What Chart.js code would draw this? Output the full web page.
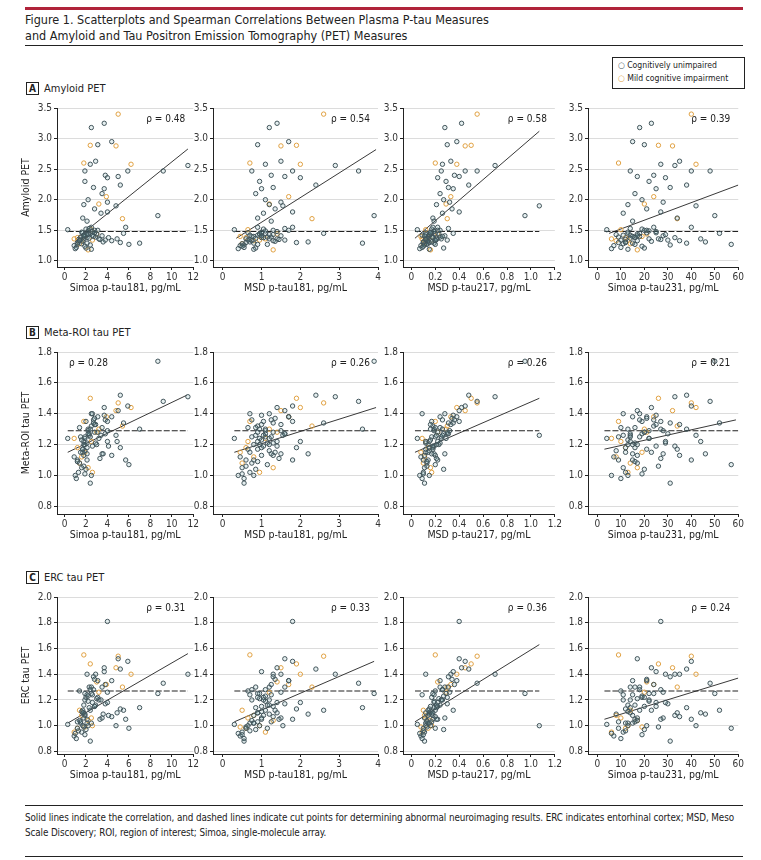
<!DOCTYPE html>
<html>
<head>
<meta charset="utf-8">
<script src="https://cdn.jsdelivr.net/npm/chart.js@4"></script>
<style>
  body { margin: 0; background: #fff; font-family: "Liberation Sans Narrow", "DejaVu Sans Condensed", sans-serif; color: #222; }
  #page { position: relative; width: 761px; height: 860px; }
  .abs { position: absolute; }
  canvas.panel { position: absolute; }
  .sec { position: absolute; left: 26px; font-size: 11px; }
  .sec b { display: inline-block; border: 1px solid #222; width: 11px; text-align: center; font-size: 10px; margin-right: 5px; }
</style>
</head>
<body>
<div id="page">
  <div class="abs" style="left:25px;top:7px;width:718px;height:3px;background:#b0233a"></div>
  <div class="abs" style="left:25px;top:12px;font-size:12.5px;line-height:16px;">Figure 1. Scatterplots and Spearman Correlations Between Plasma P-tau Measures<br>and Amyloid and Tau Positron Emission Tomography (PET) Measures</div>
  <div class="abs" style="left:25px;top:45px;width:718px;height:1px;background:#222"></div>
  <div class="abs" style="left:612px;top:57px;width:126px;height:29px;border:1px solid #222;font-size:8.6px;line-height:13px;padding:1px 0 0 5px;white-space:nowrap;">
    <span style="color:#42545a">&#9675;</span> Cognitively unimpaired<br><span style="color:#e0a040">&#9675;</span> Mild cognitive impairment
  </div>
  <div class="sec" style="top:82px"><b>A</b>Amyloid PET</div>
  <div class="sec" style="top:326px"><b>B</b>Meta-ROI tau PET</div>
  <div class="sec" style="top:571px"><b>C</b>ERC tau PET</div>
  <div class="abs" style="left:25px;top:805px;width:718px;height:1px;background:#222"></div>
  <div class="abs" style="left:25px;top:810px;width:718px;font-size:9.8px;line-height:15px;letter-spacing:-0.1px;">Solid lines indicate the correlation, and dashed lines indicate cut points for determining abnormal neuroimaging results. ERC indicates entorhinal cortex; MSD, Meso<br>Scale Discovery; ROI, region of interest; Simoa, single-molecule array.</div>
  <div class="abs" style="left:25px;top:856px;width:718px;height:1px;background:#222"></div>
</div>
<script>
// one entry per participant (0 = cognitively unimpaired, 1 = MCI)
const simoa181 = [1.8,2.1,1.5,2.4,1.2,2.8,1.9,3.2,1.6,2.2, 0.9,2.6,1.4,2.0,3.5,1.1,2.3,1.7,2.9,1.3, 2.5,1.9,3.8,2.1,1.6,4.4,2.7,1.0,2.2,1.8,
  5.2,5.7,7.0,4.9,0.3,2.4,1.5,3.0,2.0,1.7, 2.6,3.3,1.2,2.3,4.1,1.9,2.8,3.6,5.5,6.0, 2.1,1.4,3.1,2.5,1.8,
  2.5,3.7,4.4,3.1,2.9,2.4,1.9,5.9,9.2,11.5, 3.8,4.0,5.0,1.9,2.7,3.7,5.2,2.2,3.5,4.0, 1.8,2.8,8.7,4.0,1.7,3.4,4.8,2.1,
  5.0,2.4,4.8,1.8,6.2,3.9,3.2,5.4,1.2,1.6, 0.9,2.2,1.4,2.5,3.0,1.9,2.6];
const msd181 = [0.9,1.0,0.7,1.1,0.6,1.3,0.8,1.2,0.5,0.95, 0.45,1.4,0.75,1.05,1.5,0.55,0.85,0.65,1.15,0.7, 0.9,1.2,1.6,0.8,1.0,1.3,0.75,0.4,1.1,0.6,
  1.9,1.8,3.6,1.4,0.3,0.55,1.25,0.95,0.85,1.35, 0.7,1.45,0.9,1.6,1.05,0.5,1.0,2.2,2.6,1.15, 1.3,0.65,1.7,0.8,1.0,
  1.2,1.4,1.7,0.9,1.5,1.1,0.75,1.8,3.5,2.9, 1.25,2.0,1.6,0.95,1.3,1.0,2.4,1.1,0.85,1.5, 1.2,1.35,3.9,1.8,0.9,1.05,1.55,1.25,
  2.6,1.9,1.5,0.7,2.0,1.7,1.2,2.3,0.6,0.8, 1.1,1.3,0.5,0.65,1.4,0.45,0.95];
const msd217 = [0.15,0.18,0.12,0.20,0.10,0.22,0.14,0.25,0.11,0.16, 0.08,0.19,0.13,0.17,0.28,0.09,0.21,0.12,0.24,0.10, 0.18,0.15,0.30,0.14,0.16,0.20,0.26,0.07,0.19,0.13,
  0.15,0.22,0.19,0.12,0.05,0.11,0.17,0.23,0.27,0.14, 0.09,0.21,0.13,0.31,0.18,0.10,0.16,0.17,0.35,0.20, 0.12,0.20,0.24,0.15,0.11,
  0.28,0.42,0.38,0.30,0.33,0.26,0.25,0.45,0.55,0.70, 0.36,0.22,0.40,0.29,0.31,0.35,0.48,0.27,0.24,0.32, 0.21,0.34,0.95,0.40,0.18,0.26,1.07,0.19,
  0.55,0.50,0.45,0.20,0.38,0.33,0.29,0.30,0.14,0.11, 0.09,0.16,0.10,0.12,0.22,0.08,0.17];
const simoa231 = [14,16,12,18,9,20,15,22,11,13, 7,25,17,19,28,10,14,21,16,12, 24,8,30,15,13,35,18,6,22,26,
  12,40,38,44,4,31,9,17,20,23, 11,27,16,14,33,19,25,46,52,57, 29,10,21,13,17,
  18,23,15,20,35,27,14,40,48,33, 24,29,17,22,31,25,38,19,16,28, 13,21,50,27,34,11,42,15,
  40,26,32,9,42,24,20,34,12,8, 6,17,14,10,21,19,13];
const amyloid = [1.42,1.38,1.35,1.45,1.30,1.50,1.40,1.36,1.28,1.44, 1.25,1.48,1.33,1.52,1.41,1.22,1.37,1.46,1.39,1.31, 1.55,1.43,1.34,1.29,1.47,1.33,1.40,1.20,1.49,1.36,
  1.30,1.55,1.29,1.36,1.51,1.26,1.39,1.44,1.21,1.32, 1.42,1.35,1.27,1.53,1.38,1.24,1.46,1.31,1.45,1.27, 1.43,1.34,1.50,1.19,1.41,
  3.18,3.25,2.95,2.90,2.63,2.58,2.47,2.47,2.47,2.56, 2.40,2.36,2.38,2.30,2.20,2.18,2.24,2.00,2.10,1.96, 1.92,1.85,1.74,1.80,1.70,1.78,1.90,1.65,
  3.40,2.89,2.88,2.60,2.58,2.05,1.93,1.69,1.38,1.33, 1.36,1.18,1.28,1.51,1.44,1.40,1.34];
const metaRoi = [1.22,1.18,1.15,1.25,1.10,1.28,1.20,1.24,1.05,1.30, 1.12,1.19,1.08,1.35,1.14,0.98,1.26,1.17,1.21,1.02, 1.32,1.16,1.27,1.10,1.23,1.13,1.36,1.00,1.29,1.06,
  1.18,1.10,1.30,1.22,1.24,0.95,1.25,1.20,1.04,1.15, 1.40,1.11,1.09,1.27,1.19,1.01,1.33,1.14,1.34,1.07, 1.21,1.31,1.38,1.00,1.13,
  1.40,1.44,1.38,1.28,1.33,1.30,1.25,1.45,1.48,1.51, 1.36,1.22,1.42,1.24,1.34,1.39,1.52,1.27,1.31,1.29, 1.20,1.37,1.74,1.35,1.17,1.26,1.26,1.14,
  1.47,1.50,1.42,1.35,1.44,1.38,1.30,1.32,1.18,1.12, 1.24,1.05,1.08,1.22,1.28,1.15,1.02];
const erc = [1.10,1.05,1.02,1.12,0.98,1.15,1.08,1.20,0.95,1.00, 0.92,1.18,1.04,1.22,1.06,0.90,1.14,1.00,1.16,0.96, 1.25,1.09,1.17,1.02,1.11,1.07,1.28,0.94,1.19,0.99,
  1.13,1.05,1.14,1.10,1.01,0.88,1.03,1.21,0.97,1.12, 1.24,1.05,1.03,1.30,1.08,0.93,1.15,1.09,1.12,0.98, 1.40,1.27,1.35,1.02,1.06,
  1.30,1.45,1.35,1.22,1.40,1.28,1.20,1.50,1.33,1.40, 1.32,1.18,1.52,1.25,1.38,1.42,1.44,1.23,1.30,1.26, 1.16,1.36,1.25,1.81,1.10,1.20,1.00,1.24,
  1.54,1.48,1.45,1.55,1.40,1.32,1.26,1.30,0.98,1.08, 0.95,1.04,1.12,1.06,1.34,0.99,1.00];
const group = [0,0,0,0,0,0,0,0,0,0, 0,0,0,0,0,0,0,0,0,0, 0,0,0,0,0,0,0,0,0,0,
  0,0,0,0,0,0,0,0,0,0, 0,0,0,0,0,0,0,0,0,0, 0,0,0,0,0,
  0,0,0,0,0,0,0,0,0,0, 0,0,0,0,0,0,0,0,0,0, 0,0,0,0,0,0,0,0,
  1,1,1,1,1,1,1,1,1,1, 1,1,1,1,1,1,1];

// Spearman rho per row (amyloid, meta-ROI, ERC) and column (plasma measure)
const rhoValues = [[0.48,0.54,0.58,0.39],[0.28,0.26,0.26,0.21],[0.31,0.33,0.36,0.24]];
// correlation line ends: [x1, y1, x2, y2]
const fitLines = [
  [[1,1.35,11.5,2.83],[0.35,1.37,3.95,2.82],[0.03,1.37,1.07,3.12],[5,1.45,60,2.24]],
  [[0.3,1.15,11.4,1.52],[0.3,1.15,3.95,1.44],[0.03,1.15,1.07,1.50],[3,1.17,59,1.36]],
  [[0.3,1.02,11.5,1.56],[0.3,1.03,3.9,1.50],[0.03,1.03,1.07,1.63],[3,1.05,60,1.37]]
];
const cutPoints = [1.48, 1.29, 1.27];

const xMeasures = [
  { data: simoa181, title: 'Simoa p-tau181, pg/mL', min: -0.7, max: 12, step: 2, cut: [0.3, 11.5] },
  { data: msd181, title: 'MSD p-tau181, pg/mL', min: -0.25, max: 4, step: 1, cut: [0.3, 3.95] },
  { data: msd217, title: 'MSD p-tau217, pg/mL', min: -0.07, max: 1.2, step: 0.2, cut: [0.03, 1.07] },
  { data: simoa231, title: 'Simoa p-tau231, pg/mL', min: -4, max: 60, step: 10, cut: [3, 60] }
];
const yMeasures = [
  { data: amyloid, title: 'Amyloid PET', min: 0.9, max: 3.5, step: 0.5, top: 100, height: 195, rhoLeft: false },
  { data: metaRoi, title: 'Meta-ROI tau PET', min: 0.75, max: 1.8, step: 0.2, top: 344, height: 198, rhoLeft: true },
  { data: erc, title: 'ERC tau PET', min: 0.78, max: 2.0, step: 0.2, top: 589, height: 193, rhoLeft: false }
];
const columns = [
  { left: 20, width: 180, axisW: 37 },
  { left: 183, width: 200, axisW: 30 },
  { left: 373, width: 190, axisW: 30 },
  { left: 558, width: 187, axisW: 30 }
];

const FONT = '"Liberation Sans Narrow", "DejaVu Sans Condensed", sans-serif';

const rhoPlugin = {
  id: 'rho',
  afterDatasetsDraw(chart, args, opts) {
    const { ctx, chartArea } = chart;
    ctx.save();
    ctx.font = '10px ' + FONT;
    ctx.fillStyle = '#222';
    ctx.textBaseline = 'top';
    if (opts.left) {
      ctx.textAlign = 'left';
      ctx.fillText('ρ = ' + opts.value.toFixed(2), chartArea.left + 12, chartArea.top + 6);
    } else {
      ctx.textAlign = 'right';
      ctx.fillText('ρ = ' + opts.value.toFixed(2), chartArea.right - 8, chartArea.top + 6);
    }
    ctx.restore();
  }
};

const page = document.getElementById('page');
yMeasures.forEach((ym, r) => {
  xMeasures.forEach((xm, c) => {
    const col = columns[c];
    const canvas = document.createElement('canvas');
    canvas.className = 'panel';
    canvas.style.left = col.left + 'px';
    canvas.style.top = ym.top + 'px';
    canvas.width = col.width;
    canvas.height = ym.height;
    canvas.style.width = col.width + 'px';
    canvas.style.height = ym.height + 'px';
    page.appendChild(canvas);

    const cu = [], mci = [];
    xm.data.forEach((x, i) => {
      (group[i] ? mci : cu).push({ x: x, y: ym.data[i] });
    });
    const f = fitLines[r][c];

    new Chart(canvas.getContext('2d'), {
      type: 'scatter',
      data: {
        datasets: [
          { data: cu, pointRadius: 2.2, borderWidth: 1, borderColor: '#42545a', backgroundColor: 'rgba(70,140,150,0.14)' },
          { data: mci, pointRadius: 2.2, borderWidth: 1, borderColor: '#e0a040', backgroundColor: 'rgba(255,255,255,0)' },
          { data: [{ x: xm.cut[0], y: cutPoints[r] }, { x: xm.cut[1], y: cutPoints[r] }], showLine: true, pointRadius: 0, borderColor: '#222', borderWidth: 1.1, borderDash: [6, 2] },
          { data: [{ x: f[0], y: f[1] }, { x: f[2], y: f[3] }], showLine: true, pointRadius: 0, borderColor: '#222', borderWidth: 0.9 }
        ]
      },
      options: {
        responsive: false,
        animation: false,
        layout: { padding: { top: 8, right: 5 } },
        plugins: {
          legend: { display: false },
          tooltip: { enabled: false },
          rho: { value: rhoValues[r][c], left: ym.rhoLeft && c === 0 }
        },
        scales: {
          x: {
            type: 'linear', min: xm.min, max: xm.max,
            afterBuildTicks: (axis) => {
              const t = [];
              for (let v = 0; v <= xm.max + 1e-9; v += xm.step) t.push({ value: +v.toFixed(2) });
              axis.ticks = t;
            },
            afterFit: (axis) => { axis.height = 28; },
            border: { color: '#222' },
            grid: { drawOnChartArea: false, tickColor: '#222', tickLength: 3 },
            ticks: { font: { size: 10, family: FONT }, color: '#333', padding: 1, maxRotation: 0,
              callback: (v) => xm.step < 1 ? (v === 0 ? '0' : v.toFixed(1)) : v },
            title: { display: true, text: xm.title, font: { size: 10.5, family: FONT }, color: '#222', padding: 0 }
          },
          y: {
            type: 'linear', min: ym.min, max: ym.max,
            afterBuildTicks: (axis) => {
              const t = [];
              const start = Math.ceil(ym.min / ym.step - 1e-9) * ym.step;
              for (let v = start; v <= ym.max + 1e-9; v += ym.step) t.push({ value: +v.toFixed(2) });
              axis.ticks = t;
            },
            afterFit: (axis) => { axis.width = col.axisW; },
            border: { color: '#222' },
            grid: { color: '#dcdcdc', tickColor: '#222', tickLength: 3 },
            ticks: { font: { size: 10, family: FONT }, color: '#333', padding: 2, callback: (v) => v.toFixed(1) },
            title: { display: c === 0, text: ym.title, font: { size: 10.5, family: FONT }, color: '#222', padding: 0 }
          }
        }
      },
      plugins: [rhoPlugin]
    });
  });
});
</script>
</body>
</html>
